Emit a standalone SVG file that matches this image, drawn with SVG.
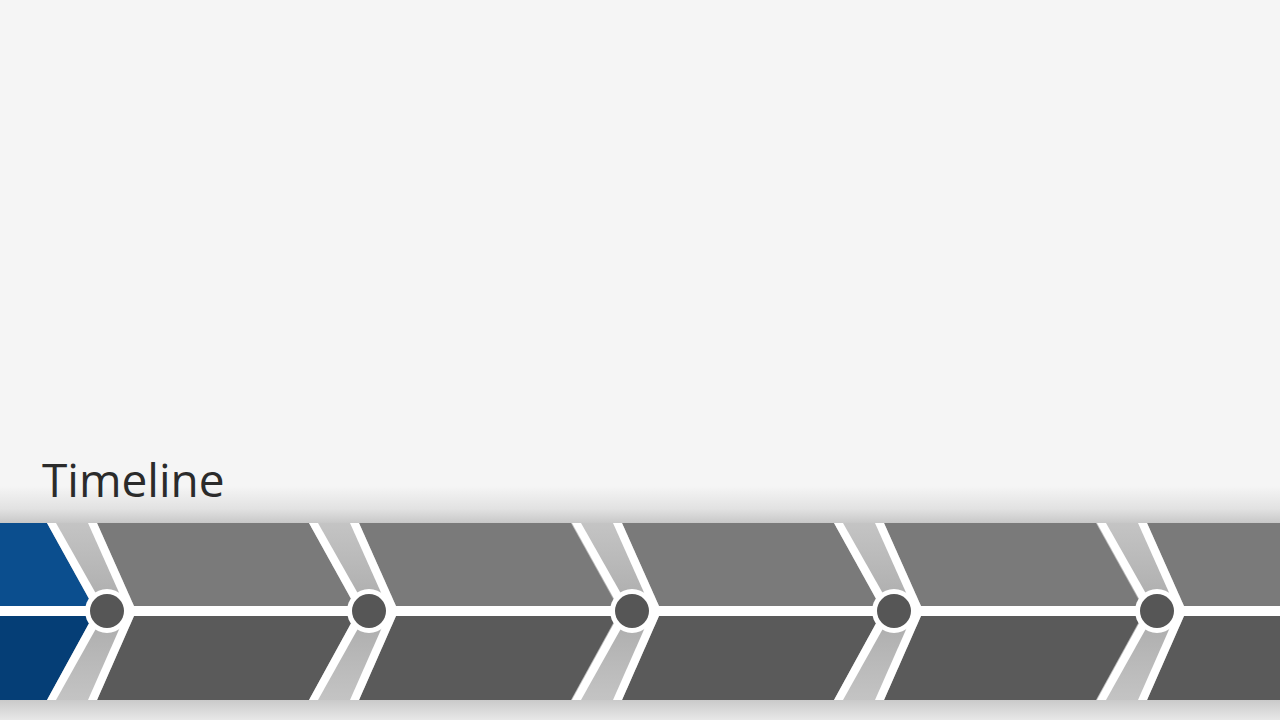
<svg xmlns="http://www.w3.org/2000/svg" xmlns:xlink="http://www.w3.org/1999/xlink" width="1280" height="720" viewBox="0 0 1280 720">
  <style>
    .title { font-family: "Open Sans", "Noto Sans", "Liberation Sans", sans-serif; font-size: 46px; fill: #2b2b2b; }
    .up { fill: #7a7a7a; }
    .lo { fill: #5a5a5a; }
    .bup { fill: #0b4e8e; }
    .blo { fill: #053e76; }
    .white { fill: #ffffff; }
    .dot { fill: #565656; }
  </style>
  <defs>
    <linearGradient id="shadowTop" x1="0" y1="0" x2="0" y2="1">
      <stop offset="0" stop-color="#f5f5f5"/>
      <stop offset="0.6" stop-color="#e2e2e2"/>
      <stop offset="1" stop-color="#c6c6c6"/>
    </linearGradient>
    <linearGradient id="shadowBot" x1="0" y1="0" x2="0" y2="1">
      <stop offset="0" stop-color="#cacaca"/>
      <stop offset="1" stop-color="#e8e8e8"/>
    </linearGradient>
    <linearGradient id="wedge" x1="0" y1="0" x2="0" y2="1">
      <stop offset="0" stop-color="#c4c4c4"/>
      <stop offset="0.5" stop-color="#ababab"/>
      <stop offset="1" stop-color="#c4c4c4"/>
    </linearGradient>
    <g id="chev">
      <polygon class="up" points="-10,523 202,523 248,606 27,606"/>
      <polygon class="lo" points="27,616 248,616 202,700 -10,700"/>
    </g>
    <g id="junction">
      <polygon class="white" points="-60,523 -51,523 -4,606 -14,606"/>
      <polygon class="white" points="-19,523 -10,523 27,606 18,606"/>
      <polygon class="white" points="-14,616 -4,616 -51,700 -60,700"/>
      <polygon class="white" points="18,616 27,616 -10,700 -19,700"/>
      <circle class="white" cx="0" cy="611" r="22"/>
      <circle class="dot" cx="0" cy="611" r="17"/>
    </g>
  </defs>

  <rect x="0" y="0" width="1280" height="720" fill="#f5f5f5"/>
  <rect x="0" y="486" width="1280" height="38" fill="url(#shadowTop)"/>
  <rect x="0" y="523" width="1280" height="178" fill="url(#wedge)"/>
  <rect x="0" y="700" width="1280" height="20" fill="url(#shadowBot)"/>

  <text class="title" x="42" y="497">Timeline</text>

  <g id="chevron-start">
    <polygon class="bup" points="-5,523 47,523 93,606 -5,606"/>
    <polygon class="blo" points="-5,616 93,616 47,700 -5,700"/>
  </g>
  <g id="chevron-1"><use xlink:href="#chev" href="#chev" x="107"/></g>
  <g id="chevron-2"><use xlink:href="#chev" href="#chev" x="369"/></g>
  <g id="chevron-3"><use xlink:href="#chev" href="#chev" x="632"/></g>
  <g id="chevron-4"><use xlink:href="#chev" href="#chev" x="894"/></g>
  <g id="chevron-5">
    <polygon class="up" points="1147,523 1290,523 1290,606 1184,606"/>
    <polygon class="lo" points="1184,616 1290,616 1290,700 1147,700"/>
  </g>

  <g id="connectors">
    <rect class="white" x="0" y="606" width="1280" height="10"/>
  </g>

  <g id="milestone-1"><use xlink:href="#junction" href="#junction" x="107"/></g>
  <g id="milestone-2"><use xlink:href="#junction" href="#junction" x="369"/></g>
  <g id="milestone-3"><use xlink:href="#junction" href="#junction" x="632"/></g>
  <g id="milestone-4"><use xlink:href="#junction" href="#junction" x="894"/></g>
  <g id="milestone-5"><use xlink:href="#junction" href="#junction" x="1157"/></g>
</svg>
